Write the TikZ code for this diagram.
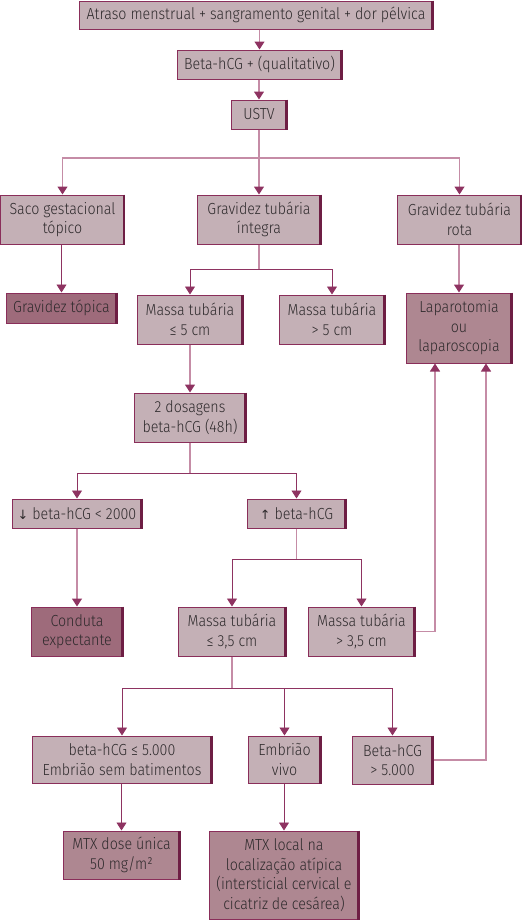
\documentclass[tikz,border=0pt]{standalone}
\usepackage{fontspec}
\setmainfont{Fira Sans Light}[FakeStretch=0.89]
\newfontfamily\symf{DejaVu Sans}[Scale=0.8]
\usetikzlibrary{arrows.meta}
\definecolor{boxfill}{HTML}{C4B0B6}
\definecolor{resfill}{HTML}{9E6B7B}
\definecolor{midfill}{HTML}{AE8791}
\definecolor{boxline}{HTML}{8A2E5A}
\definecolor{edgedark}{HTML}{6E1E44}
\definecolor{lnlight}{HTML}{C58CA6}
\definecolor{lndark}{HTML}{8E3361}
\definecolor{txt}{HTML}{2E2A2C}
\tikzset{
  box/.style={draw=boxline, fill=boxfill, line width=1pt, rectangle, inner sep=0pt,
    align=center, text=txt, font=\fontsize{16}{19.5}\selectfont},
  resbox/.style={box, fill=resfill},
  midbox/.style={box, fill=midfill},
  sz/.style 2 args={minimum width=#1pt, minimum height=#2pt},
  tip/.style={-{Triangle[width=10pt,length=8pt,color=lndark]}},
  lite/.style={draw=lnlight, line width=1.2pt},
  dark/.style={draw=lndark, line width=0.9pt},
}
\begin{document}
\begin{tikzpicture}[x=1pt,y=-1pt]
\useasboundingbox (0,0) rectangle (530,921);
% nodes
\node[box, sz={354}{28}] (top) at (256,15) {Atraso menstrual + sangramento genital + dor pélvica};
\node[box, sz={165}{29}] (beta) at (259.5,64.5) {Beta-hCG + (qualitativo)};
\node[box, sz={56}{29}] (ustv) at (259,114.5) {USTV};
\node[box, sz={124}{49}] (saco) at (62.5,219.5) {Saco gestacional\\tópico};
\node[box, sz={124}{49}] (integ) at (259,219.5) {Gravidez tubária\\íntegra};
\node[box, sz={124}{49}] (rota) at (459.5,219.5) {Gravidez tubária\\rota};
\node[resbox, sz={111}{30}] (topica) at (61.5,308) {Gravidez tópica};
\node[box, sz={106}{49}] (mfive) at (190,319.5) {Massa tubária\\≤ 5 cm};
\node[box, sz={106}{49}] (mfiveg) at (332,319.5) {Massa tubária\\> 5 cm};
\node[midbox, sz={106}{70}] (lap) at (459,328) {Laparotomia\\ou\\laparoscopia};
\node[box, sz={112}{49}] (dos) at (190,417.5) {2 dosagens\\beta-hCG (48h)};
\node[box, sz={130}{29}] (down) at (77,513.5) {{\symf ↓} beta-hCG < 2000};
\node[box, sz={99}{29}] (up) at (296.5,513.5) {{\symf ↑} beta-hCG};
\node[resbox, sz={92}{49}] (cond) at (77,631.5) {Conduta\\expectante};
\node[box, sz={108}{49}] (mtf) at (232,631.5) {Massa tubária\\≤ 3,5 cm};
\node[box, sz={107}{49}] (mtfg) at (361.5,631.5) {Massa tubária\\> 3,5 cm};
\node[box, sz={180}{47}] (bfk) at (122,759.5) {beta-hCG ≤ 5.000\\Embrião sem batimentos};
\node[box, sz={73}{47}] (emb) at (284.5,759.5) {Embrião\\vivo};
\node[box, sz={81}{48}] (bfkg) at (392.5,760) {Beta-hCG\\> 5.000};
\node[midbox, sz={117}{48}] (mtxa) at (121.5,855) {MTX dose única\\50 mg/m²};
\node[midbox, sz={150}{88}] (mtxb) at (284,875) {MTX local na\\localização atípica\\(intersticial cervical e\\cicatriz de cesárea)};
% thick right edges
\foreach \n in {top,beta,ustv,saco,integ,rota,topica,mfive,mfiveg,lap,dos,down,up,cond,mtf,mtfg,bfk,emb,bfkg,mtxa,mtxb}
  \draw[edgedark, line width=2.2pt] ([xshift=-1.1pt]\n.north east) -- ([xshift=-1.1pt]\n.south east);
% junctions
\coordinate (jA) at (259,158);
\coordinate (jB) at (259,269);
\coordinate (jC) at (190,473);
\coordinate (jD) at (296.5,559);
\coordinate (jE) at (232,688);
\coordinate (lapL) at (435,0);
\coordinate (lapR) at (486,0);
% connectors
\draw[lite, tip] (top.south -| beta) -- (beta);
\draw[lite, tip] (beta.south -| ustv) -- (ustv);
\draw[lite] (ustv) -- (jA);
\draw[lite, tip] (jA) -| (saco);
\draw[lite, tip] (jA) -- (integ);
\draw[lite, tip] (jA) -| (rota);
\draw[dark, tip] (saco.south -| topica) -- (topica);
\draw[lite] (integ.south) -- (jB);
\draw[dark, tip] (jB) -| (mfive);
\draw[dark, tip] (jB) -| (mfiveg);
\draw[lite, tip] (rota.south -| lap) -- (lap);
\draw[lite, tip] (mfive) -- (dos);
\draw[lite] (dos) -- (jC);
\draw[dark, tip] (jC) -| (down);
\draw[dark, tip] (jC) -| (up);
\draw[lite, tip] (down) -- (cond);
\draw[lite] (up) -- (jD);
\draw[dark, tip] (jD) -| (mtf);
\draw[dark, tip] (jD) -| (mtfg);
\draw[lite, tip] (mtfg.east) -| (lapL |- lap.south);
\draw[lite] (mtf) -- (jE);
\draw[dark, tip] (jE) -| (bfk);
\draw[dark, tip] (jE) -| (emb);
\draw[dark, tip] (jE) -| (bfkg);
\draw[lite, tip] (bfkg.east) -| (lapR |- lap.south);
\draw[dark, tip] (bfk.south -| mtxa) -- (mtxa);
\draw[dark, tip] (emb.south -| mtxb) -- (mtxb);
\end{tikzpicture}
\end{document}
